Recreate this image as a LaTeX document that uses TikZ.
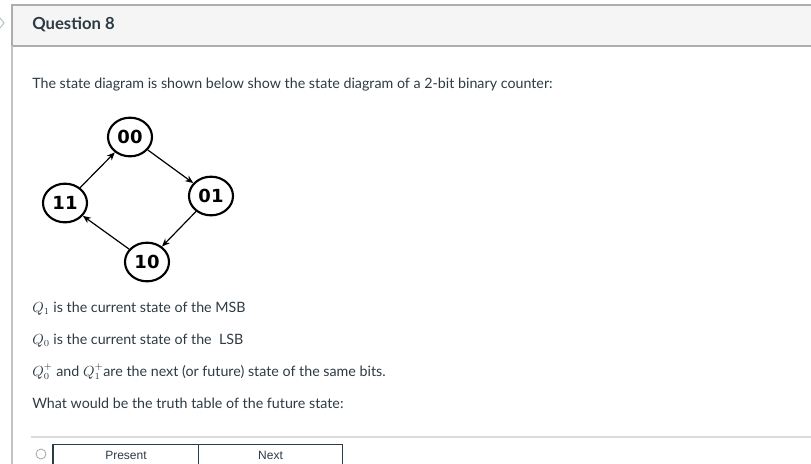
\documentclass[tikz,border=0pt]{standalone}
\usepackage[no-math]{fontspec}
\setmainfont{Lato}
\newfontfamily\statefont{DejaVu Sans}
\newfontfamily\tablefont{Liberation Sans}
\usetikzlibrary{shapes.geometric,arrows.meta}
\definecolor{txt}{HTML}{2D3B45}
\definecolor{hdrfill}{HTML}{F5F5F5}
\definecolor{hdrline}{HTML}{ADADAD}
\definecolor{sepline}{HTML}{DADADA}
\definecolor{leftline}{HTML}{C4C4C4}
\definecolor{chev}{HTML}{B8C4CC}
\tikzset{
  statenode/.style={ellipse,draw=black,line width=1.6pt,minimum width=33pt,minimum height=29pt,inner sep=0pt,font=\statefont\bfseries\fontsize{13.5}{15}\selectfont},
  trans/.style={line width=0.9pt,-{Stealth[length=6pt,width=5pt]}},
  bodytext/.style={anchor=base west,inner sep=0pt,text=txt,font=\fontsize{10.7}{12}\selectfont},
  cellbox/.style={draw=txt,line width=0.9pt},
  celltext/.style={anchor=base,inner sep=0pt,text=txt,font=\tablefont\fontsize{9}{10}\selectfont}
}
\begin{document}
\begin{tikzpicture}[x=0.75pt,y=-0.75pt]
\useasboundingbox (0,0) rectangle (811,464);
\clip (0,0) rectangle (811,464);
\fill[white] (0,0) rectangle (811,464);
% header
\path[fill=hdrfill] (12,5) rectangle (815,46);
\draw[hdrline,line width=1pt] (815,5) -- (12,5) -- (12,46) -- (815,46);
\draw[leftline,line width=1pt] (12,46) -- (12,470);
\draw[chev,line width=0.8pt] (0,18) -- (4,23) -- (0,28);
\node[anchor=base west,inner sep=0pt,text=txt,font=\bfseries\fontsize{12.5}{14}\selectfont] (title) at (32,30) {Question 8};
% intro
\node[bodytext] (intro) at (32,88) {The state diagram is shown below show the state diagram of a 2-bit binary counter:};
% state diagram
\node[statenode] (s00) at (130,137) {00};
\node[statenode] (s11) at (65,203) {11};
\node[statenode] (s01) at (211,196) {01};
\node[statenode] (s10) at (147,262) {10};
\draw[trans] (s00) -- (s01);
\draw[trans] (s01) -- (s10);
\draw[trans] (s10) -- (s11);
\draw[trans] (s11) -- (s00);
% text lines
\node[bodytext] (l1) at (32,312) {$Q_1$ is the current state of the MSB};
\node[bodytext] (l2) at (32,344) {$Q_0$ is the current state of the\ \ LSB};
\node[bodytext] (l3) at (32,376) {$Q_0^+$ and $Q_1^+$are the next (or future) state of the same bits.};
\node[bodytext] (l4) at (32,408) {What would be the truth table of the future state:};
% separator
\draw[sepline,line width=1pt] (31,437) -- (811,437);
% radio
\draw[gray!70,line width=0.6pt] (41,454) circle (5);
% table
\draw[cellbox] (53,470) -- (53,444.5) -- (342.5,444.5) -- (342.5,470);
\draw[cellbox] (198.5,444.5) -- (198.5,470);
\node[celltext] (present) at (126,459) {Present};
\node[celltext] (next) at (270.5,459) {Next};
\end{tikzpicture}
\end{document}
